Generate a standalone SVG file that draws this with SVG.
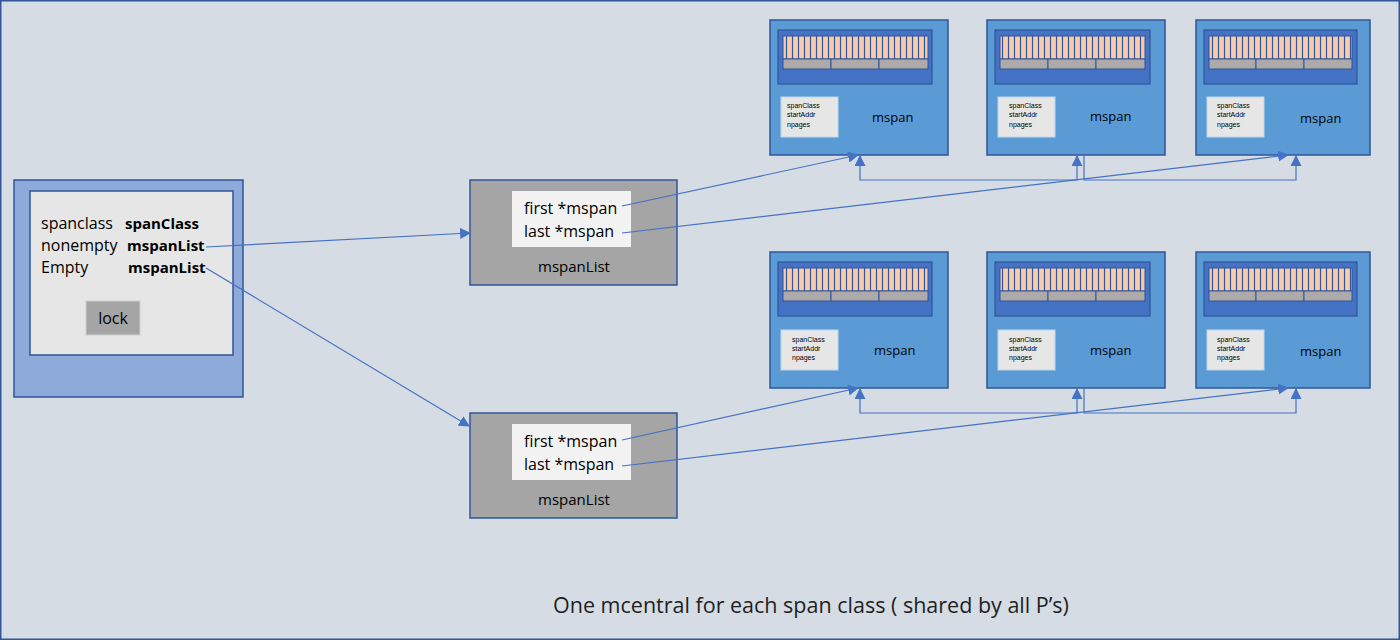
<svg xmlns="http://www.w3.org/2000/svg" width="1400" height="640" viewBox="0 0 1400 640">
<style>
.bg{fill:#d6dce4;stroke:#2f5597;stroke-width:1.5}
.span{fill:#5b9bd5;stroke:#2f5597;stroke-width:1.5}
.panel{fill:#4472c4;stroke:#2f5597;stroke-width:1.2}
.stripes{fill:url(#stripe);stroke:#2f5597;stroke-width:1}
.gbar{fill:#aeaaaa;stroke:#2f5597;stroke-width:1}
.wbox{fill:#e7e6e6;stroke:#bdd7ee;stroke-width:1}
.small{font-family:"Liberation Sans",Arial,sans-serif;font-size:7px;fill:#000}
.mspan{font-family:"Open Sans","Liberation Sans",sans-serif;font-size:13px;fill:#000}
.txt{font-family:"Open Sans","Liberation Sans",sans-serif;font-size:16px;fill:#000}
.bold{font-weight:bold;font-size:15px}
.lbl{font-family:"Open Sans","Liberation Sans",sans-serif;font-size:15px;fill:#000}
.list{fill:#a5a5a5;stroke:#2f5597;stroke-width:1.5}
.inner{fill:#f2f2f2;stroke:none}
.conn{fill:none;stroke:#4472c4;stroke-width:1.2}
</style>
<defs>
<pattern id="stripe" patternUnits="userSpaceOnUse" x="0" y="0" width="6" height="30">
<rect x="0" y="0" width="6" height="30" fill="#2f5597"/>
<rect x="1.1" y="0" width="4.8" height="30" fill="#f8cbad"/>
</pattern>
<marker id="arr" viewBox="0 0 10 10" refX="9" refY="5" markerWidth="11" markerHeight="11" orient="auto-start-reverse" markerUnits="userSpaceOnUse">
<path d="M0,0 L10,5 L0,10 z" fill="#4472c4"/>
</marker>
</defs>

<rect class="bg" x="0.75" y="0.75" width="1398.5" height="638.5"/>

<g id="mcentral">
<rect x="14" y="180" width="229" height="217" fill="#8eaadb" stroke="#2f5597" stroke-width="1.5"/>
<rect x="30" y="191" width="203" height="164" fill="#e7e6e6" stroke="#2f5597" stroke-width="1.5"/>
<text class="txt" x="41" y="229">spanclass</text>
<text class="txt bold" x="125" y="229">spanClass</text>
<text class="txt" x="41" y="251">nonempty</text>
<text class="txt bold" x="127" y="251">mspanList</text>
<text class="txt" x="41" y="273">Empty</text>
<text class="txt bold" x="128" y="273">mspanList</text>
<rect x="86" y="301" width="54" height="34" fill="#a5a5a5" stroke="#d0cece" stroke-width="1"/>
<text class="txt" x="113" y="324" text-anchor="middle">lock</text>
</g>

<g id="list-nonempty">
<rect class="list" x="470" y="180" width="207" height="105"/>
<rect class="inner" x="512" y="191" width="119" height="56"/>
<text class="txt" x="524" y="214">first *mspan</text>
<text class="txt" x="524" y="237">last *mspan</text>
<text class="lbl" x="574" y="272" text-anchor="middle">mspanList</text>
</g>

<g id="list-empty">
<rect class="list" x="470" y="413" width="207" height="105"/>
<rect class="inner" x="512" y="424" width="119" height="56"/>
<text class="txt" x="524" y="447">first *mspan</text>
<text class="txt" x="524" y="470">last *mspan</text>
<text class="lbl" x="574" y="505" text-anchor="middle">mspanList</text>
</g>

<g id="span-top-1">
<rect class="span" x="770" y="20" width="178" height="135"/>
<rect class="panel" x="778" y="30" width="154" height="54"/>
<rect class="stripes" x="783" y="36" width="145" height="23"/>
<rect class="gbar" x="783" y="59" width="48" height="10"/>
<rect class="gbar" x="831" y="59" width="48" height="10"/>
<rect class="gbar" x="879" y="59" width="49" height="10"/>
<rect class="wbox" x="781" y="97" width="57" height="40"/>
<text class="small" x="787" y="108">spanClass</text>
<text class="small" x="787" y="117">startAddr</text>
<text class="small" x="787" y="127">npages</text>
<text class="mspan" x="872" y="122">mspan</text>
</g>

<g id="span-top-2">
<rect class="span" x="987" y="20" width="178" height="135"/>
<rect class="panel" x="995" y="30" width="155" height="54"/>
<rect class="stripes" x="1000" y="36" width="145" height="23"/>
<rect class="gbar" x="1000" y="59" width="48" height="10"/>
<rect class="gbar" x="1048" y="59" width="48" height="10"/>
<rect class="gbar" x="1096" y="59" width="49" height="10"/>
<rect class="wbox" x="998" y="97" width="57" height="40"/>
<text class="small" x="1009" y="108">spanClass</text>
<text class="small" x="1009" y="117">startAddr</text>
<text class="small" x="1009" y="127">npages</text>
<text class="mspan" x="1090" y="121">mspan</text>
</g>

<g id="span-top-3">
<rect class="span" x="1196" y="20" width="174" height="135"/>
<rect class="panel" x="1204" y="30" width="153" height="54"/>
<rect class="stripes" x="1209" y="36" width="143" height="23"/>
<rect class="gbar" x="1209" y="59" width="47" height="10"/>
<rect class="gbar" x="1256" y="59" width="48" height="10"/>
<rect class="gbar" x="1304" y="59" width="48" height="10"/>
<rect class="wbox" x="1207" y="97" width="57" height="40"/>
<text class="small" x="1217" y="108">spanClass</text>
<text class="small" x="1217" y="117">startAddr</text>
<text class="small" x="1217" y="127">npages</text>
<text class="mspan" x="1300" y="123">mspan</text>
</g>

<g id="span-bot-1">
<rect class="span" x="770" y="252" width="178" height="136"/>
<rect class="panel" x="778" y="262" width="154" height="54"/>
<rect class="stripes" x="783" y="268" width="145" height="23"/>
<rect class="gbar" x="783" y="291" width="48" height="10"/>
<rect class="gbar" x="831" y="291" width="48" height="10"/>
<rect class="gbar" x="879" y="291" width="49" height="10"/>
<rect class="wbox" x="781" y="330" width="57" height="40"/>
<text class="small" x="792" y="342">spanClass</text>
<text class="small" x="792" y="351">startAddr</text>
<text class="small" x="792" y="360">npages</text>
<text class="mspan" x="874" y="355">mspan</text>
</g>

<g id="span-bot-2">
<rect class="span" x="987" y="252" width="178" height="136"/>
<rect class="panel" x="995" y="262" width="155" height="54"/>
<rect class="stripes" x="1000" y="268" width="145" height="23"/>
<rect class="gbar" x="1000" y="291" width="48" height="10"/>
<rect class="gbar" x="1048" y="291" width="48" height="10"/>
<rect class="gbar" x="1096" y="291" width="49" height="10"/>
<rect class="wbox" x="998" y="330" width="57" height="40"/>
<text class="small" x="1009" y="342">spanClass</text>
<text class="small" x="1009" y="351">startAddr</text>
<text class="small" x="1009" y="360">npages</text>
<text class="mspan" x="1090" y="355">mspan</text>
</g>

<g id="span-bot-3">
<rect class="span" x="1196" y="252" width="174" height="136"/>
<rect class="panel" x="1204" y="262" width="153" height="54"/>
<rect class="stripes" x="1209" y="268" width="143" height="23"/>
<rect class="gbar" x="1209" y="291" width="47" height="10"/>
<rect class="gbar" x="1256" y="291" width="48" height="10"/>
<rect class="gbar" x="1304" y="291" width="48" height="10"/>
<rect class="wbox" x="1207" y="330" width="57" height="40"/>
<text class="small" x="1217" y="342">spanClass</text>
<text class="small" x="1217" y="351">startAddr</text>
<text class="small" x="1217" y="360">npages</text>
<text class="mspan" x="1300" y="356">mspan</text>
</g>

<g id="connectors">
<line class="conn" x1="206" y1="247" x2="470" y2="233" marker-end="url(#arr)"/>
<line class="conn" x1="206" y1="268" x2="469" y2="426" marker-end="url(#arr)"/>
<line class="conn" x1="622" y1="206" x2="858" y2="155" marker-end="url(#arr)"/>
<line class="conn" x1="622" y1="233" x2="1288" y2="155" marker-end="url(#arr)"/>
<line class="conn" x1="622" y1="440" x2="858" y2="388" marker-end="url(#arr)"/>
<line class="conn" x1="622" y1="466" x2="1288" y2="388" marker-end="url(#arr)"/>
<polyline class="conn" points="860,156 860,180 1077,180 1077,156" marker-start="url(#arr)" marker-end="url(#arr)"/>
<polyline class="conn" points="1084,155 1084,180 1296,180 1296,156" marker-end="url(#arr)"/>
<polyline class="conn" points="860,389 860,413 1077,413 1077,389" marker-start="url(#arr)" marker-end="url(#arr)"/>
<polyline class="conn" points="1084,388 1084,413 1296,413 1296,389" marker-end="url(#arr)"/>
</g>

<text x="811" y="613" text-anchor="middle" font-family="'Open Sans','Liberation Sans',sans-serif" font-size="21.5" fill="#1f1f1f">One mcentral for each span class ( shared by all P’s)</text>
</svg>
